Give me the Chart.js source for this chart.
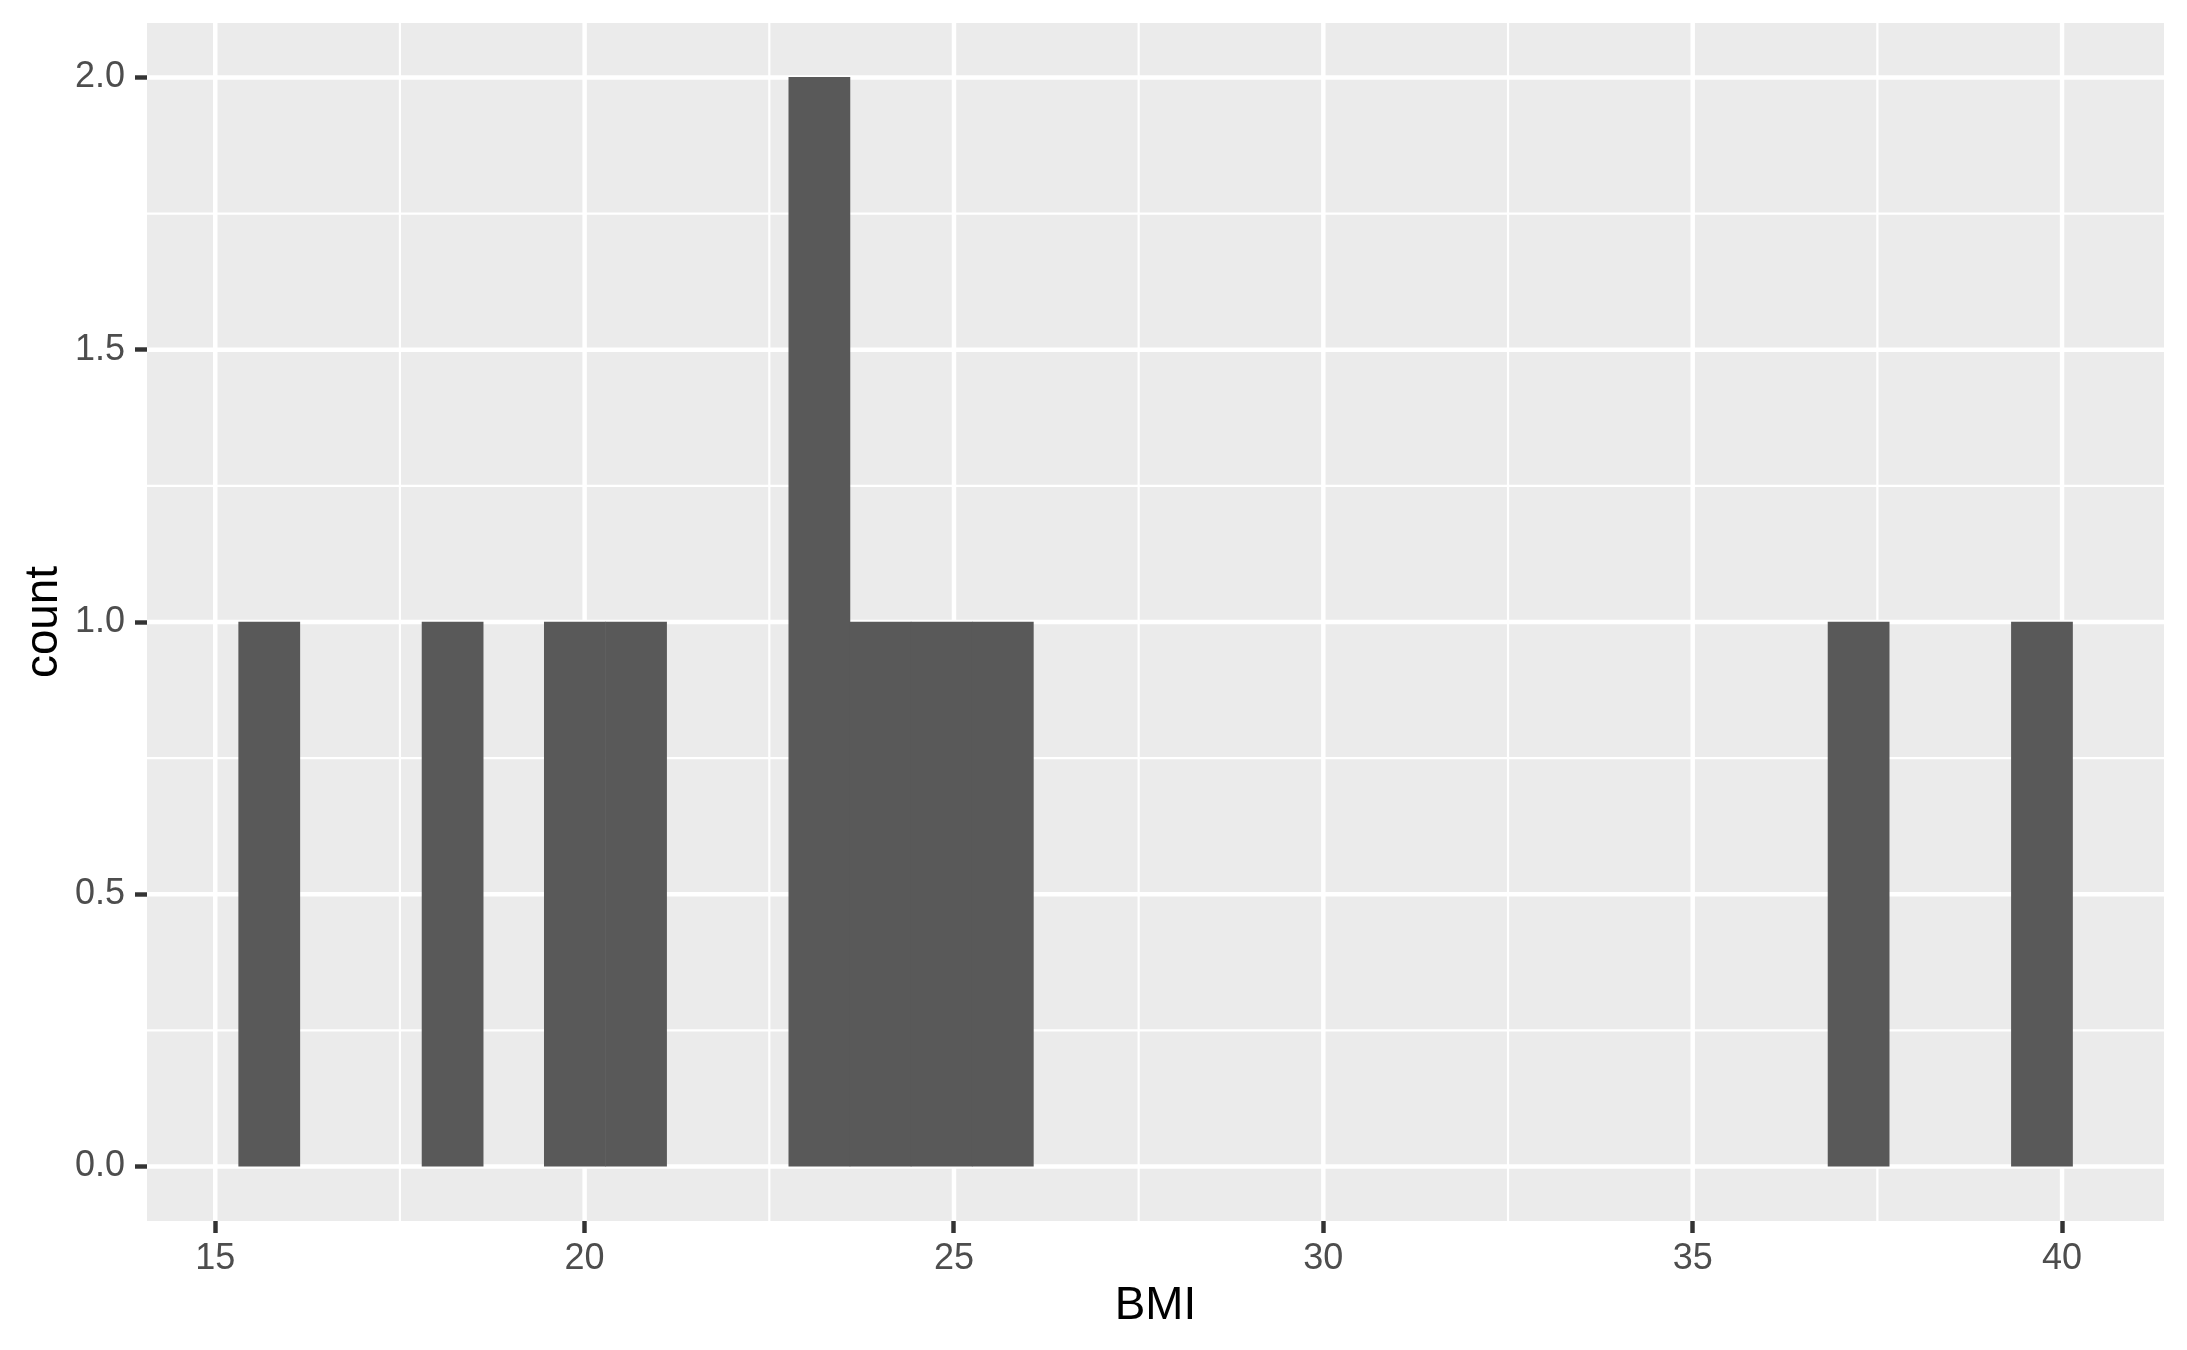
<!DOCTYPE html>
<html>
<head>
<meta charset="utf-8">
<script src="https://cdn.jsdelivr.net/npm/chart.js@4/dist/chart.umd.min.js"></script>
<style>
  html, body { margin: 0; padding: 0; background: #ffffff; }
  #c { display: block; }
</style>
</head>
<body>
<canvas id="c" width="2187" height="1350" style="width:2187px;height:1350px"></canvas>
<script>
// Histogram bins (centers) and counts
const binCenters = [15.731, 16.558, 17.386, 18.213, 19.041, 19.868, 20.696, 21.523, 22.351, 23.178,
                    24.006, 24.833, 25.661, 26.488, 27.316, 28.143, 28.971, 29.798, 30.626, 31.453,
                    32.281, 33.108, 33.936, 34.763, 35.591, 36.418, 37.246, 38.073, 38.901, 39.728];
const counts     = [1, 0, 0, 1, 0, 1, 1, 0, 0, 2,
                    1, 1, 1, 0, 0, 0, 0, 0, 0, 0,
                    0, 0, 0, 0, 0, 0, 1, 0, 0, 1];
const xMajorTicks = [15, 20, 25, 30, 35, 40];
const xMinorTicks = [17.5, 22.5, 27.5, 32.5, 37.5];
const yMajorTicks = [0, 0.5, 1, 1.5, 2];
const yMinorTicks = [0.25, 0.75, 1.25, 1.75];
const xRange = [14.076, 41.38];
const yRange = [-0.1, 2.1];
const xTitle = 'BMI';
const yTitle = 'count';

const FONT = "'Liberation Sans', Arial, Helvetica, sans-serif";
const MAJOR_W = 4.45, MINOR_W = 2.2;

const panelPlugin = {
  id: 'panel',
  beforeDraw(chart) {
    const {ctx, chartArea: a} = chart;
    ctx.save();
    ctx.fillStyle = '#EBEBEB';
    ctx.fillRect(a.left, a.top, a.right - a.left, a.bottom - a.top);
    ctx.restore();
  },
  beforeDatasetsDraw(chart) {
    const {ctx, chartArea: a, scales} = chart;
    ctx.save();
    ctx.strokeStyle = '#FFFFFF';
    ctx.lineWidth = MINOR_W;
    xMinorTicks.forEach(v => {
      const px = scales.x.getPixelForValue(v);
      ctx.beginPath(); ctx.moveTo(px, a.top); ctx.lineTo(px, a.bottom); ctx.stroke();
    });
    yMinorTicks.forEach(v => {
      const py = scales.y.getPixelForValue(v);
      ctx.beginPath(); ctx.moveTo(a.left, py); ctx.lineTo(a.right, py); ctx.stroke();
    });
    ctx.lineWidth = MAJOR_W;
    xMajorTicks.forEach(v => {
      const px = scales.x.getPixelForValue(v);
      ctx.beginPath(); ctx.moveTo(px, a.top); ctx.lineTo(px, a.bottom); ctx.stroke();
    });
    yMajorTicks.forEach(v => {
      const py = scales.y.getPixelForValue(v);
      ctx.beginPath(); ctx.moveTo(a.left, py); ctx.lineTo(a.right, py); ctx.stroke();
    });
    ctx.restore();
  }
};

new Chart(document.getElementById('c'), {
  type: 'bar',
  data: {
    datasets: [{
      label: yTitle,
      data: binCenters.map((x, i) => ({x: x, y: counts[i]})),
      backgroundColor: c => (counts[c.dataIndex] > 0 ? '#595959' : 'rgba(0,0,0,0)'),
      borderWidth: 0,
      barPercentage: 1.0,
      categoryPercentage: 1.0
    }]
  },
  options: {
    responsive: false,
    devicePixelRatio: 1,
    animation: false,
    layout: { padding: { top: 23, right: 23, left: 0, bottom: 0 } },
    plugins: { legend: { display: false }, tooltip: { enabled: false } },
    scales: {
      x: {
        type: 'linear',
        offset: false,
        min: xRange[0],
        max: xRange[1],
        afterFit(s) { s.height = 129; s.paddingLeft = 0; s.paddingRight = 0; },
        afterBuildTicks(s) { s.ticks = xMajorTicks.map(v => ({value: v})); },
        border: { display: false },
        grid: {
          offset: false,
          drawOnChartArea: false,
          drawTicks: true,
          tickLength: 12,
          tickWidth: MAJOR_W,
          tickColor: '#333333'
        },
        ticks: {
          includeBounds: false,
          autoSkip: false,
          maxRotation: 0,
          padding: 4,
          color: '#4D4D4D',
          font: { family: FONT, size: 36 },
          callback: v => String(v)
        },
        title: {
          display: true,
          text: xTitle,
          color: '#000000',
          font: { family: FONT, size: 45.8 },
          padding: { top: 0, bottom: 16 }
        }
      },
      y: {
        type: 'linear',
        min: yRange[0],
        max: yRange[1],
        afterFit(s) { s.width = 147; s.paddingTop = 0; s.paddingBottom = 0; },
        afterBuildTicks(s) { s.ticks = yMajorTicks.map(v => ({value: v})); },
        border: { display: false },
        grid: {
          drawOnChartArea: false,
          drawTicks: true,
          tickLength: 12,
          tickWidth: MAJOR_W,
          tickColor: '#333333'
        },
        ticks: {
          includeBounds: false,
          autoSkip: false,
          padding: 10,
          color: '#4D4D4D',
          font: { family: FONT, size: 36 },
          callback: v => Number(v).toFixed(1)
        },
        title: {
          display: true,
          text: yTitle,
          color: '#000000',
          font: { family: FONT, size: 45.8 },
          padding: { top: 17, bottom: 0 }
        }
      }
    }
  },
  plugins: [panelPlugin]
});
</script>
</body>
</html>
